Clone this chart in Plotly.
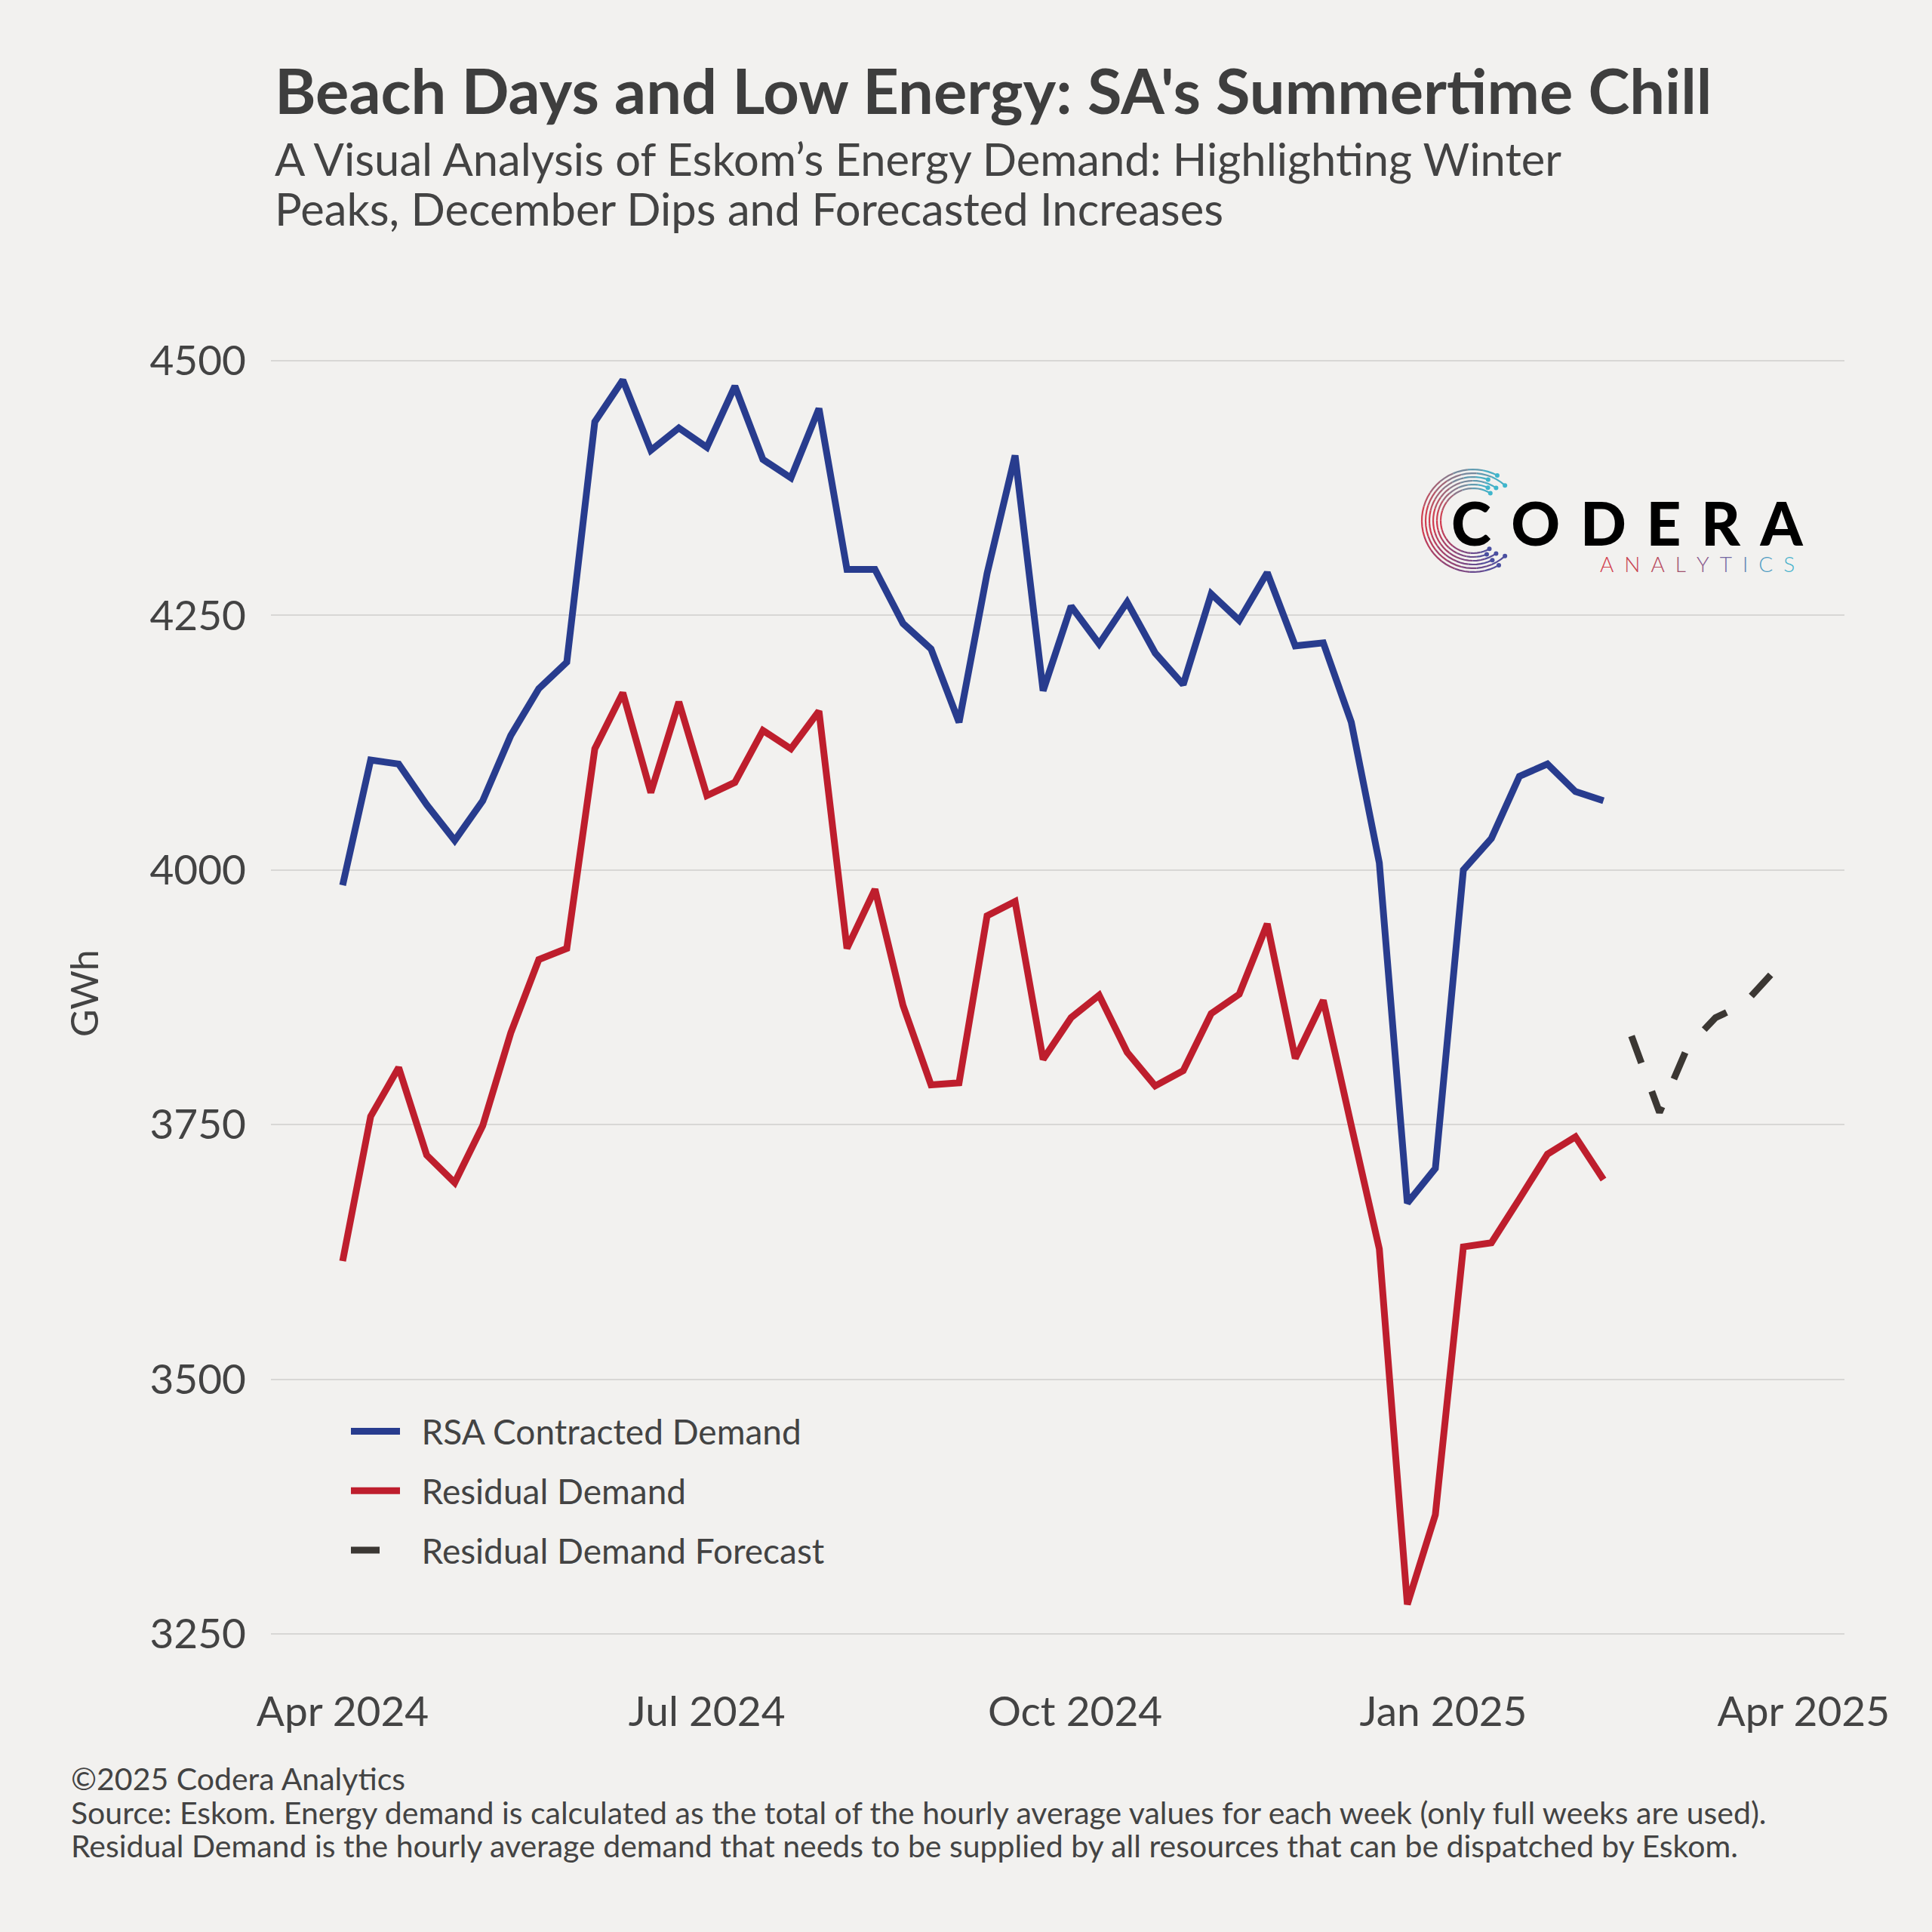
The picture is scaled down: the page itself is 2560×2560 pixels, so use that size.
import plotly.graph_objects as go
import pandas as pd
import numpy as np

# ---------------- data ----------------
weeks = pd.date_range("2024-04-01", periods=46, freq="7D")
rsa_contracted = [3985, 4108, 4104, 4064, 4029, 4068, 4132, 4178, 4204, 4440,
                  4481, 4412, 4434, 4415, 4475, 4403, 4385, 4453, 4295, 4295,
                  4242, 4217, 4145, 4291, 4407, 4176, 4259, 4222, 4263, 4213,
                  4182, 4271, 4245, 4292, 4220, 4223, 4145, 4007, 3673, 3707,
                  4000, 4031, 4092, 4104, 4077, 4068]
residual = [3616, 3758, 3806, 3720, 3693, 3749, 3840, 3912, 3923, 4119,
            4174, 4076, 4165, 4073, 4086, 4137, 4119, 4156, 3923, 3981,
            3867, 3789, 3791, 3955, 3969, 3814, 3855, 3877, 3821, 3788,
            3803, 3859, 3878, 3947, 3815, 3872, 3749, 3628, 3279, 3367,
            3630, 3634, 3677, 3721, 3738, 3696]
forecast_weeks = pd.date_range("2025-02-17", periods=6, freq="7D")
forecast = [3837, 3762, 3826, 3855, 3868, 3898]

series_names = ["RSA Contracted Demand", "Residual Demand", "Residual Demand Forecast"]
y_ticks = [3250, 3500, 3750, 4000, 4250, 4500]
x_ticks = ["2024-04-01", "2024-07-01", "2024-10-01", "2025-01-01", "2025-04-01"]
x_ticktext = ["Apr 2024", "Jul 2024", "Oct 2024", "Jan 2025", "Apr 2025"]

# ---------------- style ----------------
BG = "#F2F1EF"
TXT = "#434343"
BLUE = "#283C8E"
RED = "#BE1E2D"
DARK = "#3B3733"
FONT = "Lato"
PAD = "\u00a0\u00a0"  # gap between legend swatch and label

W = H = 2560
L, R, T, B = 359, 2444, 438, 2206  # plot area in pixels


def px2paper(px, py):
    return (px - L) / (R - L), (B - py) / (B - T)


fig = go.Figure()
fig.add_trace(go.Scatter(x=weeks, y=rsa_contracted, mode="lines", name=PAD + series_names[0],
                         legendgroup="a", line=dict(color=BLUE, width=9)))
fig.add_trace(go.Scatter(x=weeks, y=residual, mode="lines", name=PAD + series_names[1],
                         legendgroup="b", line=dict(color=RED, width=9)))
fig.add_trace(go.Scatter(x=forecast_weeks, y=forecast, mode="lines", name=PAD + series_names[2],
                         legendgroup="c", line=dict(color=DARK, width=9, dash="38px,40px")))

annotations = []
# title / subtitle
tx, ty = px2paper(362, 119)
annotations.append(dict(text="<b>Beach Days and Low Energy: SA's Summertime Chill</b>", x=tx, y=ty,
                        xref="paper", yref="paper", xanchor="left", yanchor="middle", showarrow=False,
                        font=dict(family=FONT, size=83, color="#3E3E3E")))
for txt, cy in [("A Visual Analysis of Eskom’s Energy Demand: Highlighting Winter", 210),
                ("Peaks, December Dips and Forecasted Increases", 276)]:
    sx, sy = px2paper(362, cy)
    annotations.append(dict(text=txt, x=sx, y=sy, xref="paper", yref="paper", xanchor="left",
                            yanchor="middle", showarrow=False,
                            font=dict(family=FONT, size=59.7, color=TXT)))
# footer
for txt, cy in [("©2025 Codera Analytics", 2356),
                ("Source: Eskom. Energy demand is calculated as the total of the hourly average values for each week (only full weeks are used).", 2401),
                ("Residual Demand is the hourly average demand that needs to be supplied by all resources that can be dispatched by Eskom.", 2445)]:
    fx, fy = px2paper(92, cy)
    annotations.append(dict(text=txt, x=fx, y=fy, xref="paper", yref="paper", xanchor="left",
                            yanchor="middle", showarrow=False,
                            font=dict(family=FONT, size=41, color=TXT)))
# y axis title
gx, gy = px2paper(111, 1316)
annotations.append(dict(text="GWh", x=gx, y=gy, xref="paper", yref="paper", textangle=-90,
                        xanchor="center", yanchor="middle", showarrow=False,
                        font=dict(family=FONT, size=50, color=TXT)))

# logo text
lx, ly = px2paper(1921, 692)
annotations.append(dict(text="\u2004".join("CODERA"), x=lx, y=ly, xref="paper", yref="paper",
                        xanchor="left", yanchor="middle", showarrow=False,
                        font=dict(family=FONT, size=80, color="#000000", weight=900)))
ana_cols = ["#D2404E", "#C8434F", "#B84A5E", "#A0506E", "#8A5A8E", "#7468A2", "#5F82B4", "#4E9CC2", "#45B2CC"]
ana_txt = "\u2002".join(f"<span style='color:{c}'>{ch}</span>" for ch, c in zip("ANALYTICS", ana_cols))
ax_, ay_ = px2paper(2118, 747)
annotations.append(dict(text=ana_txt, x=ax_, y=ay_, xref="paper", yref="paper",
                        xanchor="left", yanchor="middle", showarrow=False,
                        font=dict(family=FONT, size=28, color=ana_cols[0], weight=300)))

# logo arcs
shapes = []


def lerp(c1, c2, t):
    a = [int(c1[i:i + 2], 16) for i in (1, 3, 5)]
    b = [int(c2[i:i + 2], 16) for i in (1, 3, 5)]
    return "#" + "".join(f"{int(round(a[k] + (b[k] - a[k]) * t)):02x}" for k in range(3))


ccx, ccy = 1952, 690
arcs = [(68, 62, 300), (63, 48, 312), (58, 70, 296), (53, 55, 305), (48, 66, 292), (43, 58, 300)]
for r, a0, a1 in arcs:
    n = 14
    angs = np.linspace(a0, a1, n + 1)
    for i in range(n):
        seg = np.linspace(angs[i], angs[i + 1], 4)
        pts = [px2paper(ccx + r * np.cos(np.radians(a)), ccy - r * np.sin(np.radians(a))) for a in seg]
        path = "M " + " L ".join(f"{p[0]:.5f},{p[1]:.5f}" for p in pts)
        mid = (angs[i] + angs[i + 1]) / 2
        if mid <= 180:
            col = lerp("#3FB6CC", "#D9394A", (mid - a0) / (180 - a0))
        else:
            col = lerp("#D9394A", "#4A4FA0", (mid - 180) / (a1 - 180))
        shapes.append(dict(type="path", path=path, xref="paper", yref="paper",
                           line=dict(color=col, width=2.2)))
    for a, col in [(a0, "#3FB6CC"), (a1, "#4A4FA0")]:
        ex, ey = px2paper(ccx + r * np.cos(np.radians(a)) + 3, ccy - r * np.sin(np.radians(a)) - 3)
        dx0, dy0 = px2paper(ccx + r * np.cos(np.radians(a)) - 3, ccy - r * np.sin(np.radians(a)) + 3)
        shapes.append(dict(type="circle", xref="paper", yref="paper", x0=dx0, y0=dy0, x1=ex, y1=ey,
                           fillcolor=col, line=dict(width=0)))

lgx, lgy = px2paper(460, 1860)

fig.update_layout(
    width=W, height=H,
    paper_bgcolor=BG, plot_bgcolor=BG,
    margin=dict(l=L, r=W - R, t=T, b=H - B, pad=0),
    font=dict(family=FONT, color=TXT, size=40),
    showlegend=True,
    legend=dict(x=lgx, y=lgy, xanchor="left", yanchor="top", bgcolor="rgba(0,0,0,0)",
                font=dict(family=FONT, size=46, color=TXT), itemwidth=65,
                tracegroupgap=16, traceorder="grouped"),
    xaxis=dict(type="date", range=["2024-03-14 02:00", "2025-04-11 05:00"],
               tickvals=x_ticks, ticktext=x_ticktext, showgrid=False, zeroline=False,
               showline=False, ticks="outside", ticklen=14, tickcolor=BG,
               tickfont=dict(family=FONT, size=55, color=TXT)),
    yaxis=dict(range=[3219.6, 4529.6], tickvals=y_ticks, showgrid=True, gridcolor="#D8D7D5",
               gridwidth=2, zeroline=False, showline=False, ticks="outside", ticklen=21,
               tickcolor=BG, tickfont=dict(family=FONT, size=55, color=TXT)),
    annotations=annotations,
    shapes=shapes,
)

fig.write_html("out.html")
